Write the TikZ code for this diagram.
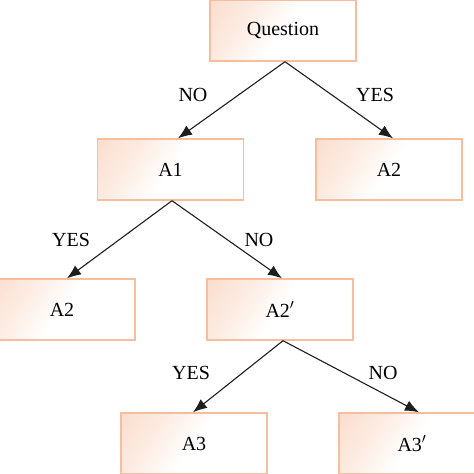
\documentclass[tikz,border=0pt]{standalone}
\usepackage{fontspec}
\newfontfamily\figfont{LiberationSerif-Regular.ttf}
\usetikzlibrary{arrows.meta,calc}
\definecolor{peach}{HTML}{F9D2BC}
\definecolor{boxborder}{HTML}{F6BE9E}
\definecolor{arrowcol}{HTML}{1E1E1E}
\pgfdeclareverticalshading{boxshade}{100bp}{color(0bp)=(white); color(50bp)=(white); color(68bp)=(peach!45!white); color(100bp)=(peach)}
\begin{document}
\begin{tikzpicture}[x=1pt,y=-1pt,
  box/.style={draw=boxborder, line width=1.4pt, minimum width=146pt, minimum height=61pt,
    inner sep=0pt, shading=boxshade, shading angle=55,
    font=\figfont\fontsize{20}{24}\selectfont},
  lbl/.style={font=\figfont\fontsize{20}{24}\selectfont, inner sep=0pt},
  arr/.style={draw=arrowcol, line width=1.1pt, -{Latex[length=14pt,width=11pt]}}]
\useasboundingbox (0,0) rectangle (474,474);
\clip (0,0) rectangle (474,474);
\node[box] (q) at (283,30.5) {Question};
\node[box] (a1) at (170.5,169.5) {A1};
\node[box] (a2r) at (389,169.5) {A2};
\node[box] (a2l) at (62,309.5) {A2};
\node[box] (a2p) at (280,309.5) {A2$'$};
\node[box] (a3) at (194,443.5) {A3};
\node[box] (a3p) at (412,443.5) {A3$'$};
\coordinate (qs) at ($(q.south)+(2,0)$);
\coordinate (a1s) at ($(a1.south)+(1.5,0)$);
\coordinate (a2ps) at ($(a2p.south)+(3,0)$);
\draw[arr] (qs) -- ($(a1.north)+(7.5,0)$);
\draw[arr] (qs) -- ($(a2r.north)+(4,0)$);
\draw[arr] (a1s) -- ($(a2l.north)+(5,0)$);
\draw[arr] (a1s) -- ($(a2p.north)+(2,0)$);
\draw[arr] (a2ps) -- ($(a3.north)+(-1,0)$);
\draw[arr] (a2ps) -- ($(a3p.north)+(7,0)$);
\node[lbl] (l1) at (193,95) {NO};
\node[lbl] (l2) at (375,95) {YES};
\node[lbl] (l3) at (71,240) {YES};
\node[lbl] (l4) at (259,240) {NO};
\node[lbl] (l5) at (191,373) {YES};
\node[lbl] (l6) at (383,373) {NO};
\end{tikzpicture}
\end{document}
